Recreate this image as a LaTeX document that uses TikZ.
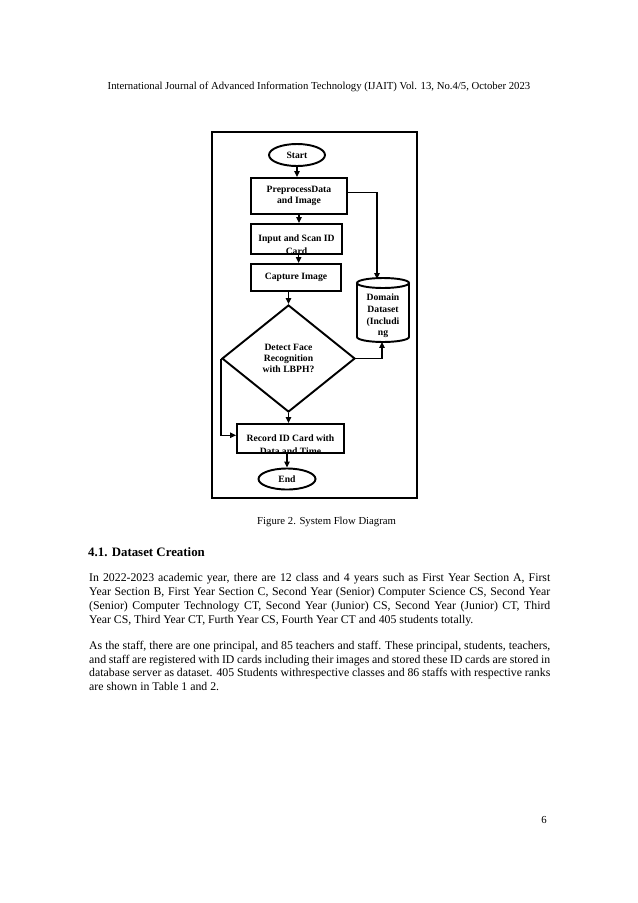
\documentclass[tikz,border=0pt]{standalone}
\usepackage{fontspec}
\setmainfont{Liberation Serif}
\usetikzlibrary{shapes.geometric,arrows.meta}
\newcommand{\pxu}{0.9325pt}
\tikzset{
	flow box/.style={
		rectangle,
		draw,
		line width=1.8pt,
		inner sep=0pt
	},
	flow end/.style={
		ellipse,
		draw,
		line width=1.8pt,
		inner sep=0pt
	},
	flow text/.style={
		align=center,
		inner sep=0pt,
		font=\fontsize{9}{10.3}\selectfont\bfseries
	},
	cut text/.style={
		align=center,
		inner sep=0pt,
		font=\fontsize{9}{12.1}\selectfont\bfseries
	},
	page text/.style={
		inner sep=0pt,
		anchor=base west,
		font=\fontsize{11}{13}\selectfont
	},
}

\begin{document}
\begin{tikzpicture}[x=0.9325pt, y=-0.9325pt, >={Triangle[length=5.5pt, width=5pt]}]
\useasboundingbox (0,0) rectangle (638,903);

% header
\node [inner sep=0pt, anchor=base, font=\fontsize{10}{12}\selectfont] (header) at (319,89)
	{International Journal of Advanced Information Technology (IJAIT) Vol. 13, No.4/5, October 2023};

% frame of the figure
\draw [line width=2.4pt] (212,132) rectangle (417,498);

% terminals
\node [flow end, flow text, minimum width=56*\pxu, minimum height=22*\pxu] (start) at (297,155) {Start};
\node [flow end, flow text, minimum width=57*\pxu, minimum height=21*\pxu] (end) at (287,479) {End};

% steps
\node [flow box, flow text, minimum width=96*\pxu, minimum height=36*\pxu] (preprocess) at (299,196) {PreprocessData\\and Image};
\node [flow box, minimum width=91*\pxu, minimum height=30*\pxu] (scan) at (296.5,239) {};
\node [flow box, flow text, minimum width=90*\pxu, minimum height=27*\pxu] (capture) at (296,277.5) {Capture Image};
\node [flow box, minimum width=107*\pxu, minimum height=29*\pxu] (record) at (290.5,438.5) {};

\begin{scope}
	\clip ([shift={(1.8pt,1.8pt)}]scan.south west) rectangle ([shift={(-1.8pt,-1.8pt)}]scan.north east);
	\node [cut text] (scan text) at (296.5,245) {Input and Scan ID\\Card};
\end{scope}
\begin{scope}
	\clip ([shift={(1.8pt,1.8pt)}]record.south west) rectangle ([shift={(-1.8pt,-1.8pt)}]record.north east);
	\node [cut text] (record text) at (290.5,444.5) {Record ID Card with\\Data and Time};
\end{scope}

% decision
\node [diamond, draw, line width=1.8pt, flow text, minimum width=133*\pxu, minimum height=107*\pxu] (detect) at (288.5,358.5)
	{Detect Face\\Recognition\\with LBPH?};

% dataset (cylinder)
\draw [line width=1.8pt] (383,283) ellipse [x radius=26, y radius=5];
\draw [line width=1.8pt] (357,283) -- (357,337) arc [start angle=180, end angle=0, x radius=26, y radius=5] -- (409,283);
\node [flow text, font=\fontsize{9}{10.9}\selectfont\bfseries] (dataset) at (383,316) {Domain\\Dataset\\(Includi\\ng};
\coordinate (dataset top) at (377,279);
\coordinate (dataset bottom) at (382,342);

% connectors
\begin{scope}[line width=1.1pt]
	\draw [->] (start.south) -- (start.south |- preprocess.north);
	\draw [->] (preprocess.south) -- (preprocess.south |- scan.north);
	\draw [->] ([xshift=2pt]scan.south) -- ([xshift=2pt]scan.south |- capture.north);
	\draw [->] (detect.north |- capture.south) -- (detect.north);
	\draw [->] (detect.south) -- (detect.south |- record.north);
	\draw [->] (end.north |- record.south) -- (end.north);
	\draw [->] ([yshift=3pt]preprocess.east) -| (dataset top);
	\draw [->] (detect.east) -| (dataset bottom);
	\draw [->] (detect.west) |- ([yshift=3pt]record.west);
\end{scope}

% caption and text
\node [inner sep=0pt, anchor=base west, font=\fontsize{10}{12}\selectfont] (caption) at (257,524) {Figure 2. System Flow Diagram};
\node [inner sep=0pt, anchor=base west, font=\fontsize{12}{14}\selectfont\bfseries] (heading) at (88,556) {4.1. Dataset Creation};

\foreach \l [count=\i from 0] in {
	{In 2022-2023 academic year, there are 12 class and 4 years such as First Year Section A, First},
	{Year Section B, First Year Section C, Second Year (Senior) Computer Science CS, Second Year},
	{(Senior) Computer Technology CT, Second Year (Junior) CS, Second Year (Junior) CT, Third}}
	\node [page text] (para1-\i) at (89,581.5+\i*14) {\makebox[430pt][s]{\l}};
\node [page text] (para1-3) at (89,623.5) {Year CS, Third Year CT, Furth Year CS, Fourth Year CT and 405 students totally.};

\foreach \l [count=\i from 0] in {
	{As the staff, there are one principal, and 85 teachers and staff. These principal, students, teachers,},
	{and staff are registered with ID cards including their images and stored these ID cards are stored in},
	{database server as dataset. 405 Students withrespective classes and 86 staffs with respective ranks}}
	\node [page text] (para2-\i) at (89,649.5+\i*13.7) {\makebox[430pt][s]{\l}};
\node [page text] (para2-3) at (89,690.5) {are shown in Table 1 and 2.};

% page number
\node [inner sep=0pt, anchor=base, font=\fontsize{10}{12}\selectfont] (pagenum) at (544,823) {6};

\end{tikzpicture}
\end{document}
